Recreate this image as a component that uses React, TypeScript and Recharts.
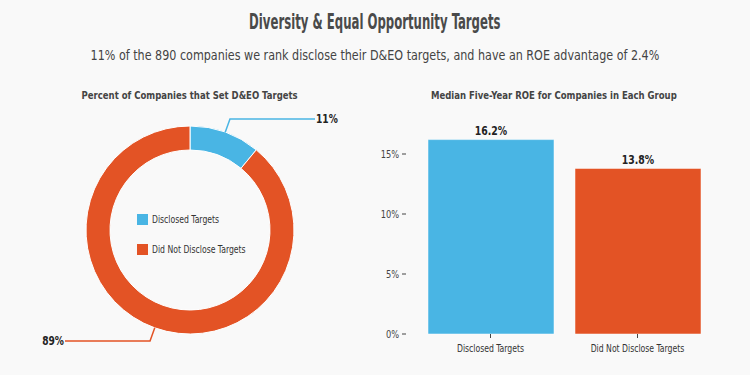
import { PieChart, Pie, Cell, BarChart, Bar, XAxis, YAxis, LabelList } from "recharts";

const groups = ["Disclosed Targets", "Did Not Disclose Targets"];
const sharePct = [11, 89];
const medianRoe = [16.2, 13.8];
const roeTicks = [0, 5, 10, 15];
const colors = ["#49b5e4", "#e35325"];

const FONT = "'DejaVu Sans Condensed', 'Liberation Sans Narrow', Roboto, sans-serif";
const RAD = Math.PI / 180;

const pieData = groups.map((name, i) => ({ name, value: sharePct[i] }));
const barData = groups.map((name, i) => ({ name, roe: medianRoe[i] }));

// squeezed svg text, the original uses a narrow DIN-like face
const Narrow = ({ x, y, sx, anchor = "middle", children, ...rest }: any) => (
  <text
    transform={`translate(${x},${y}) scale(${sx},1)`}
    textAnchor={anchor}
    dominantBaseline="central"
    fontFamily={FONT}
    {...rest}
  >
    {children}
  </text>
);

const renderPieLabel = (props: any) => {
  const { cx, cy, midAngle, outerRadius, index, value } = props;
  const cos = Math.cos(-midAngle * RAD);
  const sin = Math.sin(-midAngle * RAD);
  const sx = cx + outerRadius * cos;
  const sy = cy + outerRadius * sin;
  const mx = cx + (outerRadius + 14) * cos;
  const my = cy + (outerRadius + 14) * sin;
  const right = cos >= 0;
  const ex = cx + (right ? 125 : -125);
  return (
    <g>
      <polyline
        points={`${sx},${sy} ${mx},${my} ${ex},${my}`}
        fill="none"
        stroke={colors[index]}
        strokeWidth={1.5}
      />
      <Narrow x={ex + (right ? 1 : -1)} y={my} sx={0.78} anchor={right ? "start" : "end"} fontSize={13} fontWeight="bold" fill="#222">
        {value}%
      </Narrow>
    </g>
  );
};

const XTick = ({ x, y, payload }: any) => (
  <Narrow x={x} y={y + 8} sx={0.86} fontSize={10} fill="#333">
    {payload.value}
  </Narrow>
);

const YTick = ({ x, y, payload }: any) => (
  <Narrow x={x} y={y} sx={0.92} anchor="end" fontSize={10} fill="#444">
    {payload.value}%
  </Narrow>
);

const BarValue = ({ x, y, width, value }: any) => (
  <Narrow x={x + width / 2} y={y - 9} sx={0.8} fontSize={13} fontWeight="bold" fill="#222">
    {value}%
  </Narrow>
);

const Squeezed = ({ sx, children, style }: any) => (
  <div style={{ position: "absolute", width: 750, textAlign: "center", ...style }}>
    <span style={{ display: "inline-block", transform: `scaleX(${sx})`, whiteSpace: "nowrap" }}>{children}</span>
  </div>
);

const App = () => {
  return (
    <div
      style={{
        position: "absolute",
        left: 0,
        top: 0,
        width: 750,
        height: 375,
        background: "#f9f9f9",
        fontFamily: FONT,
        color: "#444",
        overflow: "hidden",
      }}
    >
      <Squeezed sx={0.62} style={{ left: 0, top: 10, fontSize: 21, fontWeight: "bold", color: "#4a4a4a" }}>
        Diversity &amp; Equal Opportunity Targets
      </Squeezed>
      <Squeezed sx={0.886} style={{ left: 0, top: 47, fontSize: 14 }}>
        11% of the 890 companies we rank disclose their D&amp;EO targets, and have an ROE advantage of 2.4%
      </Squeezed>
      <Squeezed sx={0.86} style={{ left: 190 - 375, top: 89, fontSize: 11, fontWeight: "bold" }}>
        Percent of Companies that Set D&amp;EO Targets
      </Squeezed>
      <Squeezed sx={0.86} style={{ left: 554 - 375, top: 89, fontSize: 11, fontWeight: "bold" }}>
        Median Five-Year ROE for Companies in Each Group
      </Squeezed>

      <div style={{ position: "absolute", left: 0, top: 0 }}>
        <PieChart width={375} height={375} margin={{ top: 0, right: 0, bottom: 0, left: 0 }}>
          <Pie
            data={pieData}
            dataKey="value"
            nameKey="name"
            cx={190}
            cy={230}
            innerRadius={80}
            outerRadius={104}
            startAngle={90}
            endAngle={-270}
            stroke="#ffffff"
            strokeWidth={1}
            label={renderPieLabel}
            labelLine={false}
            isAnimationActive={false}
          >
            {pieData.map((_, i) => (
              <Cell key={i} fill={colors[i]} />
            ))}
          </Pie>
        </PieChart>
      </div>

      {groups.map((g, i) => (
        <div
          key={g}
          style={{ position: "absolute", left: 137, top: 213 + i * 30, display: "flex", alignItems: "center", fontSize: 11, color: "#333" }}
        >
          <span style={{ display: "inline-block", width: 11, height: 11, background: colors[i], marginRight: 4 }} />
          <span style={{ display: "inline-block", transform: "scaleX(0.78)", transformOrigin: "left center", whiteSpace: "nowrap" }}>{g}</span>
        </div>
      ))}

      <div style={{ position: "absolute", left: 360, top: 0 }}>
        <BarChart width={390} height={375} data={barData} margin={{ top: 118, right: 28, bottom: 11, left: 0 }}>
          <XAxis
            dataKey="name"
            padding={{ left: 11, right: 11 }}
            axisLine={false}
            tickLine={{ stroke: "#444" }}
            tickSize={4}
            tick={<XTick />}
          />
          <YAxis
            width={46}
            domain={[0, 18]}
            ticks={roeTicks}
            axisLine={false}
            tickLine={{ stroke: "#444" }}
            tickSize={4}
            tickMargin={3}
            tick={<YTick />}
          />
          <Bar dataKey="roe" barSize={126} stroke="rgba(255,255,255,0.5)" strokeWidth={1} isAnimationActive={false}>
            {barData.map((_, i) => (
              <Cell key={i} fill={colors[i]} />
            ))}
            <LabelList dataKey="roe" content={<BarValue />} />
          </Bar>
        </BarChart>
      </div>
    </div>
  );
};

export default App;
